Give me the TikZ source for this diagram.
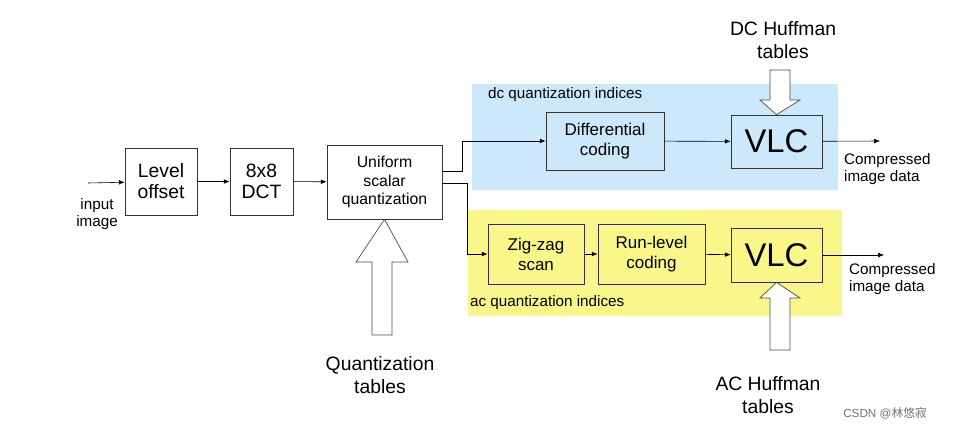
\documentclass[tikz,border=0pt]{standalone}
\usepackage{fontspec}
\setmainfont{Liberation Sans}
\newfontfamily\cjk{Noto Sans CJK SC}
\usetikzlibrary{arrows.meta}
\definecolor{bluebg}{HTML}{CCE9FB}
\definecolor{yellowbg}{HTML}{FAF78A}
\begin{document}
\begin{tikzpicture}[x=0.03cm,y=-0.03cm,
  box/.style={draw=black!80,line width=0.6pt,inner sep=0pt,align=center,font=\fontsize{16.5}{18}\selectfont},
  arr/.style={-{Latex[length=5pt,width=4pt]},line width=0.5pt},
  hollow/.style={draw=black!70,fill=white,line width=0.6pt},
  lbl/.style={font=\fontsize{16.5}{19}\selectfont,align=center},
  sm/.style={font=\fontsize{13}{14.5}\selectfont,align=left}]
\useasboundingbox[fill=white] (0,0) rectangle (954,429);
\fill[bluebg] (472,84) rectangle (838,190);
\fill[yellowbg] (468,210) rectangle (842,316);
\node[box,minimum width=72*0.03cm,minimum height=67*0.03cm] (lo) at (161,181.5) {Level\\offset};
\node[box,minimum width=63*0.03cm,minimum height=67*0.03cm] (dct) at (261.5,181.5) {8x8\\DCT};
\node[box,minimum width=115*0.03cm,minimum height=74*0.03cm,font=\fontsize{13.5}{16}\selectfont] (q) at (384.5,182) {Uniform\\scalar\\quantization};
\node[box,minimum width=118*0.03cm,minimum height=58*0.03cm,font=\fontsize{14.5}{17}\selectfont] (dif) at (605,141) {Differential\\coding};
\node[box,minimum width=91*0.03cm,minimum height=53*0.03cm,font=\fontsize{28}{30}\selectfont] (v1) at (776.5,141.5) {VLC};
\node[box,minimum width=96*0.03cm,minimum height=60*0.03cm,font=\fontsize{14.5}{17}\selectfont] (zz) at (536,254) {Zig-zag\\scan};
\node[box,minimum width=107*0.03cm,minimum height=60*0.03cm,font=\fontsize{14.5}{17}\selectfont] (rl) at (651.5,254) {Run-level\\coding};
\node[box,minimum width=91*0.03cm,minimum height=54*0.03cm,font=\fontsize{28}{30}\selectfont] (v2) at (776.5,255) {VLC};
\coordinate (in) at (88,183);
\coordinate (o1) at (880,141);
\coordinate (o2) at (884,255);
\node[sm,align=center] at (97,214) {input\\image};
\node[sm,anchor=west] at (484,95) {dc quantization indices};
\node[sm,anchor=west] at (466,303) {ac quantization indices};
\node[sm,anchor=west] at (840,169) {Compressed\\image data};
\node[sm,anchor=west] at (845,279) {Compressed\\image data};
\draw[arr] (in) -- (lo);
\draw[arr] (lo) -- (dct);
\draw[arr] (dct) -- (q);
\draw[arr] (q.east|-0,171) -- (462,171) -- (462,141) -- (dif.west);
\draw[arr] (q.east|-0,183) -- (467,183) -- (467,254) -- (zz.west);
\draw[arr] (dif) -- (v1);
\draw[arr] (zz) -- (rl);
\draw[arr] (rl) -- (v2);
\draw[arr] (v1) -- (o1);
\draw[arr] (v2) -- (o2);
% hollow arrows
\draw[hollow] (q.south) -- (408,262) -- (392,262) -- (392,335) -- (372,335) -- (372,262) -- (356,262) -- cycle;
\draw[hollow] (v1.north) -- (800,100) -- (790,100) -- (790,70) -- (770,70) -- (770,100) -- (760,100) -- cycle;
\draw[hollow] (v2.south) -- (800,298) -- (790,298) -- (790,350) -- (770,350) -- (770,298) -- (760,298) -- cycle;
\node[lbl] at (380,375) {Quantization\\tables};
\node[lbl] at (783,40) {DC Huffman\\tables};
\node[lbl] at (768,395) {AC Huffman\\tables};
\node[font=\fontsize{10}{11}\selectfont,text=black!55] at (885,413) {CSDN @{\cjk 林悠寂}};
\end{tikzpicture}
\end{document}
